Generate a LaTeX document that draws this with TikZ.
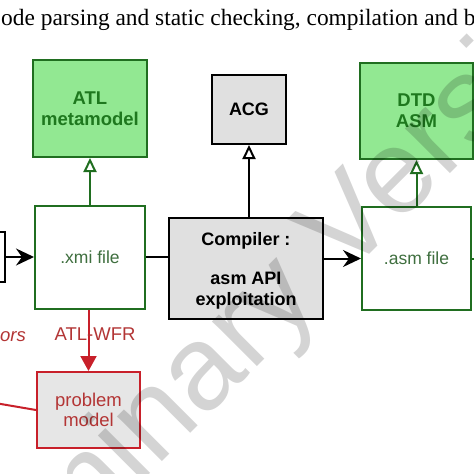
\documentclass[tikz,border=0pt]{standalone}
\usepackage{fontspec}
\setmainfont{Liberation Sans}
\newfontfamily\capfont{Liberation Serif}
\usetikzlibrary{arrows.meta}
\definecolor{gfill}{HTML}{92E892}
\definecolor{gdark}{HTML}{206E20}
\definecolor{gtext}{HTML}{1E781E}
\definecolor{ftext}{HTML}{3F6F3F}
\definecolor{greyfill}{HTML}{E0E0E0}
\definecolor{probfill}{HTML}{E6E6E6}
\definecolor{redline}{HTML}{C8202A}
\definecolor{redtext}{HTML}{B33535}
\begin{document}
\begin{tikzpicture}[x=1pt,y=-1pt,
  box/.style={draw, line width=2pt, inner sep=0pt, align=center},
  greenbox/.style={box, draw=gdark, fill=gfill, text=gtext, font=\fontsize{18.5}{21}\selectfont\bfseries},
  filebox/.style={box, draw=gdark, fill=white, text=ftext, font=\fontsize{17.5}{20}\selectfont},
  greybox/.style={box, draw=black, fill=greyfill, text=black, font=\fontsize{18}{21}\selectfont\bfseries},
  greytext/.style={inner sep=0pt, align=center, text=black, font=\fontsize{18}{21}\selectfont\bfseries},
  probbox/.style={box, draw=redline, fill=probfill, text=redtext, font=\fontsize{18.5}{20}\selectfont},
  flow/.style={line width=2pt, -{Stealth[length=18pt,width=17pt,inset=6pt]}},
  plain/.style={line width=2pt},
  conform/.style={line width=2pt, -{Triangle[open,length=14pt,width=13pt,fill=white,line width=2pt]}},
  redflow/.style={line width=2pt, draw=redline, -{Triangle[length=15pt,width=16pt]}, fill=redline},
  redtxt/.style={text=redtext, font=\fontsize{18.5}{20}\selectfont, inner sep=0pt}
]
\useasboundingbox (0,0) rectangle (474,474);
\fill[white] (0,0) rectangle (474,474);
\clip (0,0) rectangle (474,474);

\node[anchor=base west, inner sep=0pt, font=\capfont\fontsize{23.4}{26}\selectfont] (cap) at (1,25) {ode parsing and static checking, compilation and b};

\node[greenbox, minimum width=114pt, minimum height=97pt] (atl) at (90,108.5) {ATL\\metamodel};
\node[filebox, minimum width=110pt, minimum height=103pt] (xmi) at (90,257) {.xmi file};
\node[box, draw=black, fill=white, minimum width=35pt, minimum height=50pt] (src) at (-12.5,257) {};
\node[greybox, minimum width=74pt, minimum height=69pt] (acg) at (249,109.5) {ACG};
\node[greybox, minimum width=154pt, minimum height=101pt] (comp) at (246,268.5) {};
\node[greytext, anchor=north] (comptxt) at (246,232) {Compiler :\\[18pt]asm API\\exploitation};
\node[filebox, minimum width=109pt, minimum height=103pt] (asm) at (416.5,258.5) {.asm file};
\node[greenbox, minimum width=113pt, minimum height=96pt] (dtd) at (416.5,111) {DTD\\ASM};
\node[probbox, minimum width=103pt, minimum height=76pt] (prob) at (88.5,410) {problem\\model};

\coordinate (rstub) at (480,258.5);
\coordinate (rleft) at (-5,403);

\draw[flow] (src) -- (xmi);
\draw[plain] (xmi.east) -- (xmi.east -| comp.west);
\draw[flow] (asm.west -| comp.east) -- (asm.west);
\draw[plain, draw=gdark] (asm.east) -- (rstub);
\draw[conform, draw=gdark] (xmi.north) -- (atl.south);
\draw[conform] (comp.north -| acg.south) -- (acg.south);
\draw[conform, draw=gdark] (asm.north) -- (dtd.south);
\draw[redflow] (xmi.south -| prob.north) -- (prob.north);
\draw[line width=2pt, draw=redline] (rleft) -- (prob.west);

\node[redtxt] (wfr) at (95,334) {ATL-WFR};
\node[redtxt, anchor=east, font=\fontsize{18.5}{20}\selectfont\itshape] (ors) at (26,337) {ors};

\node[rotate=45, font=\fontsize{120}{120}\selectfont, text=black, opacity=0.17] (wm) at (241,339) {Preliminary Version};
\end{tikzpicture}
\end{document}
